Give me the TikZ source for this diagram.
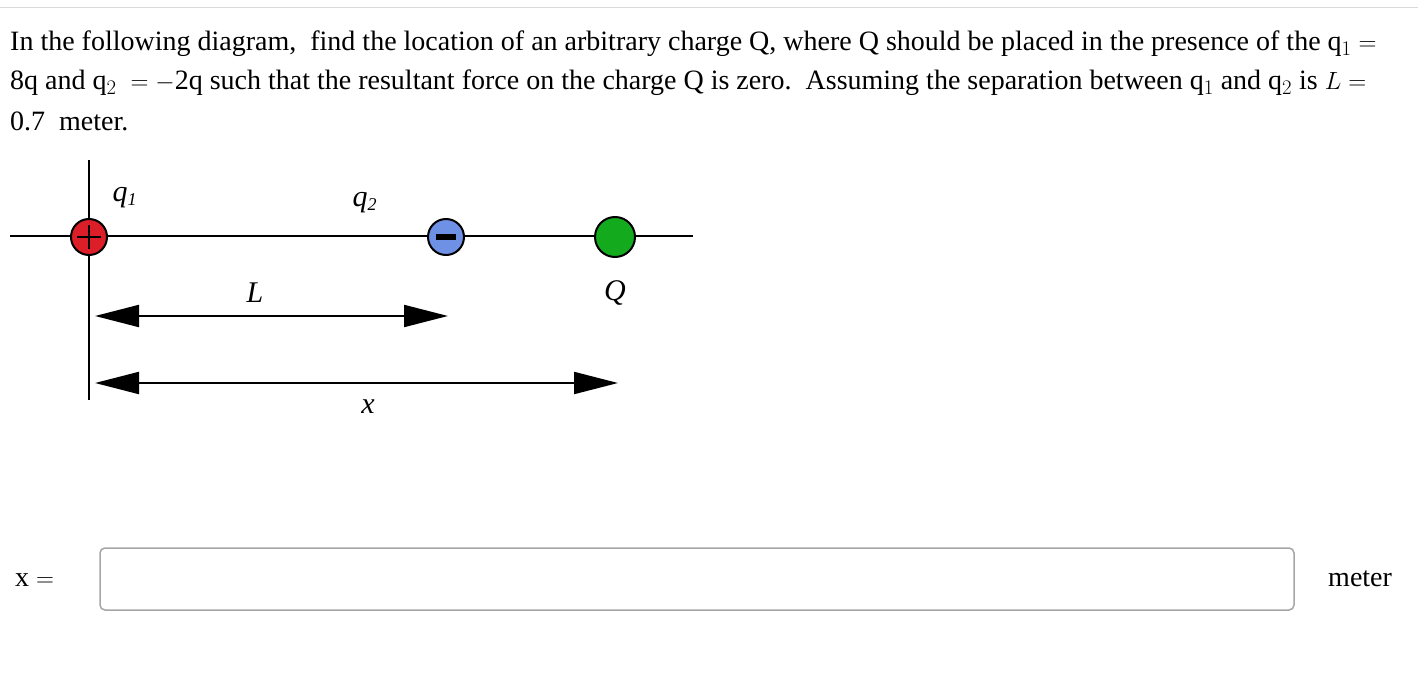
\documentclass[tikz,border=0pt]{standalone}
\usepackage{fontspec}
\setmainfont{Liberation Serif}
\usetikzlibrary{arrows.meta}
\definecolor{qblue}{RGB}{110,145,230}
\definecolor{qred}{RGB}{220,30,40}
\definecolor{qgreen}{RGB}{20,170,30}
\begin{document}
\begin{tikzpicture}[x=1pt,y=-1pt,
  txt/.style={anchor=base west,inner sep=0,font=\fontsize{28}{32}\selectfont},
  lab/.style={font=\fontsize{30}{32}\selectfont\itshape},
  dim/.style={line width=2pt,{Triangle[length=44pt,width=22pt]}-{Triangle[length=44pt,width=22pt]}},
  charge/.style={circle,draw=black,line width=2pt,inner sep=0}]
\useasboundingbox (0,0) rectangle (1418,684);
\fill[white] (0,0) rectangle (1418,684);
\draw[gray!30] (0,7) -- (1418,7);
\node[txt] (t1) at (10,51) {In the following diagram,\ \ find the location of an arbitrary charge Q, where Q should be placed in the presence of the q$_1$ $=$};
\node[txt] (t2) at (10,90) {8q and q$_2$\ \ $=-$2q such that the resultant force on the charge Q is zero.\ \ Assuming the separation between q$_1$ and q$_2$ is $L=$};
\node[txt] (t3) at (10,131) {0.7\ \ meter.};
\coordinate (al) at (10,236); \coordinate (ar) at (693,236);
\draw[line width=1.8pt] (al) -- (ar);
\coordinate (vt) at (89,160); \coordinate (vb) at (89,400);
\draw[line width=1.8pt] (vt) -- (vb);
\node[charge,fill=qred,minimum size=36pt] (q1) at (89,237) {};
\draw[line width=2.2pt] ([xshift=-12pt]q1.center) -- ([xshift=12pt]q1.center) ([yshift=-12pt]q1.center) -- ([yshift=12pt]q1.center);
\node[charge,fill=qblue,minimum size=36pt] (q2) at (446,237) {};
\fill ([xshift=-10pt,yshift=-3pt]q2.center) rectangle ([xshift=10pt,yshift=3pt]q2.center);
\node[charge,fill=qgreen,minimum size=40pt] (Q) at (615,237) {};
\node[lab] (l1) at (120,198) {q\rlap{\fontsize{18}{20}\selectfont\raisebox{-4pt}{1}}};
\node[lab] (l2) at (360,203) {q\rlap{\fontsize{18}{20}\selectfont\raisebox{-4pt}{2}}};
\node[lab] (lL) at (255,293) {L};
\node[lab] (lQ) at (615,293) {Q};
\node[lab] (lx) at (368,407) {x};
\coordinate (a1) at (95,316); \coordinate (b1) at (448,316);
\coordinate (a2) at (95,383); \coordinate (b2) at (618,383);
\draw[dim] (a1) -- (b1);
\draw[dim] (a2) -- (b2);
\node[txt] (xe) at (15,586) {x $=$};
\draw[gray!70,line width=1.5pt,rounded corners=5pt] (100,548) rectangle (1294,610);
\node[txt] (m) at (1328,586) {meter};
\end{tikzpicture}
\end{document}
